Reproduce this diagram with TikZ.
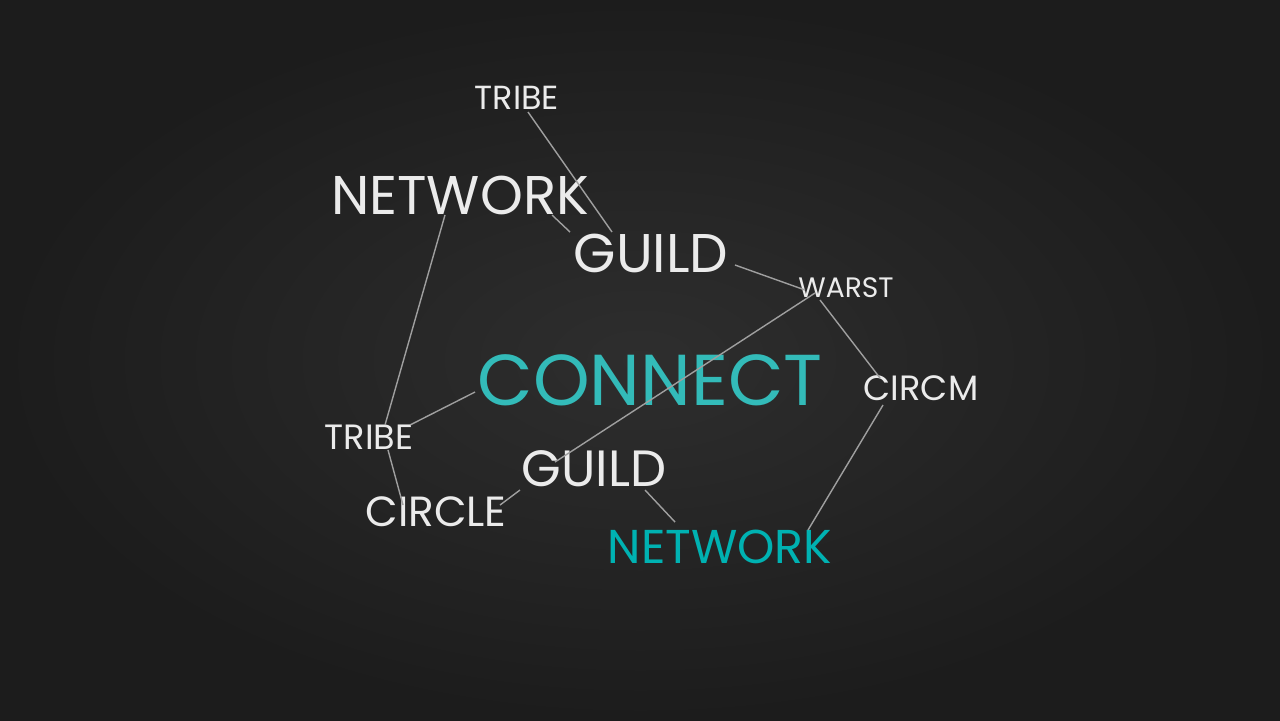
\documentclass[tikz,border=0pt]{standalone}
\usepackage{fontspec}
\setmainfont{Poppins}
\begin{document}
\begin{tikzpicture}[x=0.01cm,y=-0.01cm,
  w/.style={text=white!92!black,inner sep=1pt,font=\fontsize{#1}{#1}\selectfont},
  ln/.style={draw=gray!75,line width=0.4pt}]
\definecolor{bgin}{HTML}{2E2E2E}
\definecolor{bgout}{HTML}{1C1C1C}
\fill[inner color=bgin,outer color=bgout] (0,0) rectangle (1280,720);
\useasboundingbox (0,0) rectangle (1280,720);
\node[w=9.5] (tribe1) at (517,98) {TRIBE};
\node[w=15.5] (net1) at (460,195) {NETWORK};
\node[w=15.5] (guild1) at (651,253) {GUILD};
\node[w=8] (warst) at (846,288) {WARST};
\node[text=cyan!60!green!80!white,inner sep=1pt,font=\fontsize{20.5}{20.5}\selectfont] (conn) at (650,380) {CONNECT};
\node[w=10] (circm) at (921,388) {CIRCM};
\node[w=10] (tribe2) at (369,437) {TRIBE};
\node[w=14.5] (guild2) at (594,469) {GUILD};
\node[w=12] (circle) at (436,512) {CIRCLE};
\node[text=teal!60!cyan,inner sep=1pt,font=\fontsize{13.5}{13.5}\selectfont] (net2) at (720,547) {NETWORK};
\coordinate (t1b) at (528,112); \coordinate (g1tl) at (612,232);
\coordinate (n1a) at (552,215); \coordinate (g1a) at (570,232);
\coordinate (n1b) at (445,215); \coordinate (t2t) at (385,425);
\coordinate (t2e) at (410,425); \coordinate (cw) at (475,392);
\coordinate (t2s) at (388,450); \coordinate (cit) at (403,505);
\coordinate (g1e) at (735,265); \coordinate (ww) at (805,290);
\coordinate (ws) at (815,293); \coordinate (g2n) at (555,462);
\coordinate (g2w) at (520,490); \coordinate (cie) at (500,505);
\coordinate (ws2) at (820,300); \coordinate (cmn) at (880,378);
\coordinate (cms) at (883,405); \coordinate (n2e) at (808,530);
\coordinate (g2s) at (645,490); \coordinate (n2n) at (675,522);
\draw[ln] (t1b) -- (g1tl);
\draw[ln] (n1a) -- (g1a);
\draw[ln] (n1b) -- (t2t);
\draw[ln] (t2e) -- (cw);
\draw[ln] (t2s) -- (cit);
\draw[ln] (g1e) -- (ww);
\draw[ln] (ws) -- (g2n);
\draw[ln] (g2w) -- (cie);
\draw[ln] (ws2) -- (cmn);
\draw[ln] (cms) -- (n2e);
\draw[ln] (g2s) -- (n2n);
\end{tikzpicture}
\end{document}
